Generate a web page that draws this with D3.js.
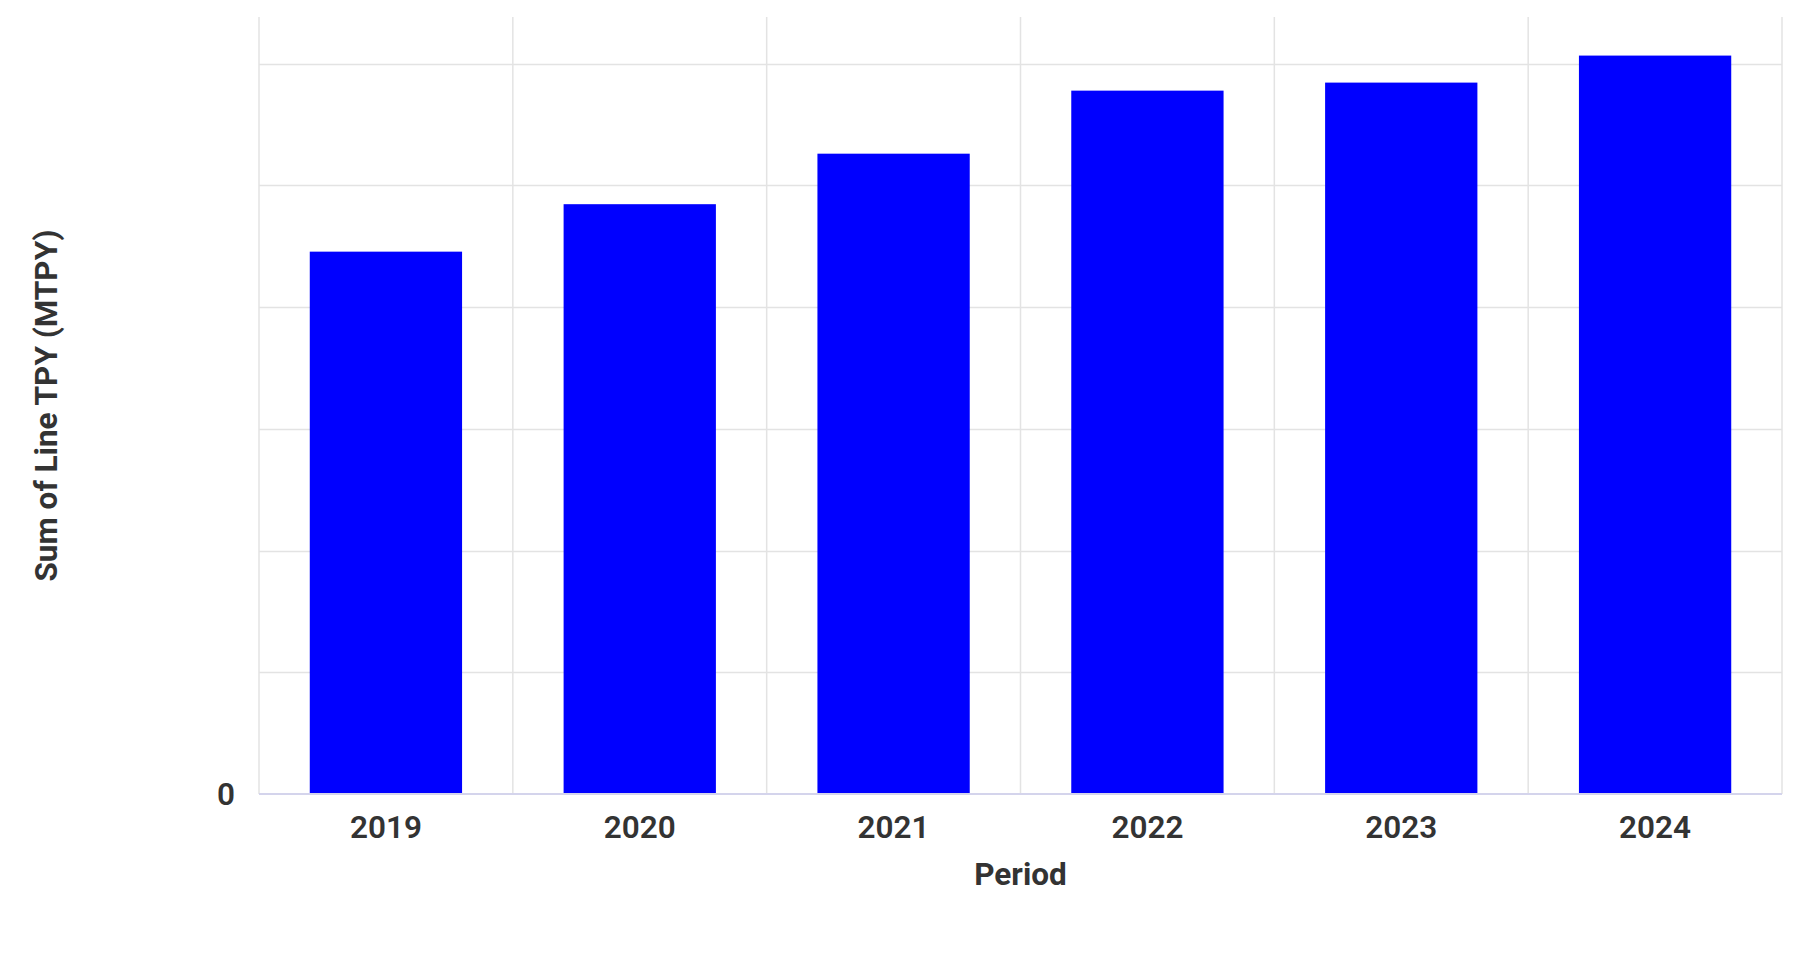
<!DOCTYPE html>
<html>
<head>
<meta charset="utf-8">
<script src="https://cdn.jsdelivr.net/npm/d3@7"></script>
<style>
  html, body { margin: 0; padding: 0; background: #ffffff; }
  svg { display: block; font-family: Roboto, "Noto Sans", sans-serif; }
</style>
</head>
<body>
<svg id="chart" width="1800" height="962"></svg>
<script>
// Data
const periods = ["2019", "2020", "2021", "2022", "2023", "2024"];
const lineTPY = [445.6, 484.6, 526.1, 577.9, 584.5, 606.7];
const yTicks = [0, 100, 200, 300, 400, 500, 600];
const yTickLabels = ["0", "", "", "", "", "", ""];
const yMax = 638.4;
const xTitle = "Period";
const yTitle = "Sum of Line TPY (MTPY)";

const W = 1800, H = 962;
const margin = { top: 17, right: 18, bottom: 168, left: 259 };
const iw = W - margin.left - margin.right;
const ih = H - margin.top - margin.bottom;

const svg = d3.select("#chart");
const g = svg.append("g").attr("transform", `translate(${margin.left},${margin.top})`);

const x = d3.scaleBand().domain(periods).range([0, iw]).paddingInner(0.4).paddingOuter(0.2);
const y = d3.scaleLinear().domain([0, yMax]).range([ih, 0]);

// horizontal gridlines
g.append("g").attr("class", "ygrid")
  .selectAll("line").data(yTicks.slice(1)).join("line")
  .attr("x1", 0).attr("x2", iw)
  .attr("y1", d => Math.round(y(d)) + 0.5).attr("y2", d => Math.round(y(d)) + 0.5)
  .attr("stroke", "#e3e3e3").attr("stroke-width", 1.5);

// vertical gridlines at band boundaries
const bounds = periods.map(p => x(p) - x.step() * x.paddingInner() / 2);
bounds.push(iw);
g.append("g").attr("class", "xgrid")
  .selectAll("line").data(bounds).join("line")
  .attr("x1", d => d).attr("x2", d => d)
  .attr("y1", 0).attr("y2", ih)
  .attr("stroke", "#e3e3e3").attr("stroke-width", 1.5);

// bars
g.append("g").selectAll("rect").data(periods).join("rect")
  .attr("x", d => x(d))
  .attr("width", x.bandwidth())
  .attr("y", (d, i) => y(lineTPY[i]))
  .attr("height", (d, i) => y(0) - y(lineTPY[i]))
  .attr("fill", "#0000ff");

// baseline
g.append("line")
  .attr("x1", 0).attr("x2", iw)
  .attr("y1", y(0)).attr("y2", y(0))
  .attr("stroke", "#d4d4ec").attr("stroke-width", 2);

// x axis labels
const xAxis = d3.axisBottom(x).tickSize(0).tickPadding(0);
const xg = g.append("g").attr("transform", `translate(0,${ih})`).call(xAxis);
xg.select(".domain").remove();
xg.selectAll("text")
  .attr("y", 44).attr("dy", 0)
  .attr("font-size", 31.5).attr("font-weight", 600)
  .attr("fill", "#333333")
  .style("font-family", "Roboto, sans-serif");

// y axis labels
const yAxis = d3.axisLeft(y).tickValues(yTicks).tickSize(0).tickPadding(24)
  .tickFormat((d, i) => yTickLabels[i]);
const yg = g.append("g").call(yAxis);
yg.select(".domain").remove();
yg.selectAll("text")
  .attr("font-size", 31.5).attr("font-weight", 600)
  .attr("fill", "#333333")
  .style("font-family", "Roboto, sans-serif");

// axis titles
svg.append("text")
  .attr("x", margin.left + iw / 2).attr("y", 885)
  .attr("text-anchor", "middle")
  .attr("font-size", 31.5).attr("font-weight", 700)
  .attr("fill", "#333333")
  .text(xTitle);

svg.append("text")
  .attr("transform", `translate(57,${margin.top + ih / 2}) rotate(-90)`)
  .attr("text-anchor", "middle")
  .attr("font-size", 31.5).attr("font-weight", 700)
  .attr("fill", "#333333")
  .text(yTitle);
</script>
</body>
</html>
